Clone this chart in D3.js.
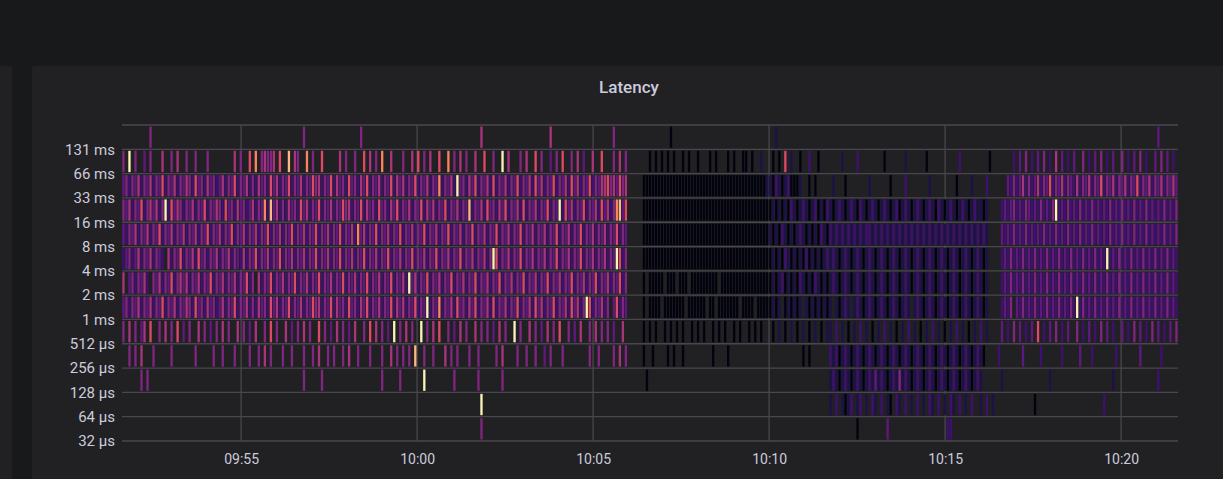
<!DOCTYPE html>
<html><head><meta charset="utf-8">
<script src="https://cdn.jsdelivr.net/npm/d3@7"></script>
<style>body{margin:0;background:#18191b;}svg{display:block;font-family:Roboto,"Noto Sans",sans-serif;}</style>
</head><body><svg id="c" width="1223" height="479"></svg>
<script>
// bucket boundaries (µs, log2) and labels
const yTickValues = [32,64,128,256,512,1024,2048,4096,8192,16384,32768,65536,131072];
const yTickLabels = ["32 µs","64 µs","128 µs","256 µs","512 µs","1 ms","2 ms","4 ms","8 ms","16 ms","33 ms","66 ms","131 ms"];
const xTickLabels = ["09:55","10:00","10:05","10:10","10:15","10:20"];
const segLens = [168,5,42,20,116]; // column segments across time
// rows listed from top bucket (>131 ms) to bottom (32-64 µs); level chars '.'=empty, 0..9 intensity
const row12 = [".........4 .......... .......... .......... .......... .......... 4......... .........4 .......... .......... .......... .........5 .......... .......... ..5....... .......... ...4....","",".........0.","..1","......................................................................................................... ....3"];
const row11 = ["4.9.4..3.4 ...5..4.5. .4..4...4. .......5.4 ..6.7.4544 5.6..8.54. .7.4..6... ..5.4..4.. 6.5.4.7..5 ...4..5.6. 4.5..6..7. 4.5.4..5.. 6..4..9.5. ..4.5..6.4 ..3.4.6..4 .5.3..5..6 ...4.5.4","","..0.0.0.0. 0..0.0..0. ..0.0...0. 0..00.0..1 ..0.",".0.0.6.1.. 0..2..0...","....1....2 ........0. .....1.... ..0....... ...2...... ...0...... .2.3.4.2.3. 4.2.5.3.2. 3..4.2.3.4 .2.3..4.2. 3.4.2..3.4 .3.2.4.3.. 2.4.3.2."];
const row10 = ["3424352435 2436243524 3542634253 4235243624 3524253426 3524362435 2436452436 2534263425 3624352436 2535243624 3524372435 2934253624 3526243524 3624352635 2436243526 3524362435 56453645","","0000000000 0000000000 0000000000 0000000000 01","1021012000 1..0.0....",".1...0.... ...1...... 0....2.... ...1...... ..0....1.. ..2...... 3242352423 5243624352 4325243524 3624352435 2436243524 352435342"];
const row9 = ["4352436245 3524926354 2435243624 3542634253 4235243728 3524253426 3524362435 2436452436 2534263425 3624352436 2535243624 3524382435 2634253624 3526243524 3624392635 2436243526 35247836","","0000000000 0000000000 0000000000 0000000000 00","0101010210 1210120102","1012101210 2101210121 0120121012 1012102101 2101210121 101.... 2323423243 2324232492 3242324232 4232324232 4232423242 323242324"];
const row8 = ["3243524352 4362435243 5243524362 4352436243 5243524362 4352436243 5243624352 4362435273 5243624352 4362435243 6243524362 4352436243 5243624352 4362435243 5243624352 4362435243 52436243","","0000000000 0000000000 0000000000 0000000000 00","1010210101 2101010210","2121212121 2122121212 1212121212 1212121212 1212121212 121.... 3232423242 3232423242 3242324232 4232324232 4232423242 323242324"];
const row7 = ["2342352435 2432.52436 2435263424 3524352432 5243624352 4362435243 5243624352 4362435243 6243524362 4352436243 5243624352 4362435243 5249624352 4362435243 5243624352 4362435243 52439624","","0000000000 0000000000 0000000000 0000000000 00","0101021010 1020101012","1210121012 1012101210 1210121012 1012101210 1210121012 101.... 2324232423 2423242324 2324232423 2423292324 2324232423 242324232"];
const row6 = ["5.3424352. 4352436245 3524352436 2435243524 3624.52436 2435243624 3524362435 2436243524 3624352436 2435293524 3624352436 2435243624 3524362435 2436243524 3624352436 2435243624 35243624","","0.00000.00 0.000.0000 00000.0000 0000000000 00","0101201010 2101021010","1210121012 1012101210 1210121012 1012101210 1210121012 101.... 2324232423 2423242324 2324232423 2423242324 2324232423 242324232"];
const row5 = ["3424352435 2436243524 3542634253 4235243624 3524253426 3524362435 2436452436 2534263425 3624352436 2535243624 3924372435 2634253624 3526243524 3624352635 2436243526 3524962435 24.36243","","0.0000.000 0000.00000 0.00.00000 00.0000.00 00","0101.01010 1.10101010","1.10121.12 1012101210 1210121.12 1012101210 1210121012 101.... 2324.32423 2423242324 2324292423 2423242324 2324232423 242324232"];
const row4 = ["4.5.4.35.6 ..4.5.4.6. 3.4..5.4.3 .4.5.4..5. 4.3.5..4.6 .4..5.3.4. 5.4..6.4.3 .5.4.3.5.. 4.6.5.4.3. 9.4.5.4..9 .4.5.6..4. 3.5.4..5.4 .4.3.5.4.. 9.4..5.4.3 .5.4.6..4. 3.5..4.5.4 .4.3..5.4","","0.0.0..0.0 .0.0..0.0. 0..0.0.0.. 0.0..0.0.0 ..",".0.1.0.1.0 .1.0.1.0.1","1.2.1.0.1. 2.1.0.1.2. 1.0.1.2.1. 0.1.2.1.0. 1.2.1.0.1. 2.1.... 3.2.4.3.2. 3.6.2.3.4. 2.3..4.2.3 .2.4.3.2.. 3.2.4.3.2. 4.3.2.3.4"];
const row3 = ["..4.4.5... 4.....4... ....4..... 4..4...4.. ..4..4.5.4 ...4..4... 4..4.5..4. 4..4.5..4. ..4...4..5 .4.4.4.8.. 4..4...5.4 .4...4..4. ....4.5... .4..4..4.. 3.4...4... .....4..4. ...4.5.4","","0..0....0. 0..0...... ...0....0. .......... ..",".......... .0.0......","2120121012 1012101210 1210121012 1012101210 1210121012 10 ....2..... ..3.....2. .....2.... .3...2.... ...2...... .3......2"];
const row2 = ["......4.4. .......... .......... .......... .......... .......... 4.....4... .......... ......4..... 4.......9. ........4. ......4... ....4..... .......... .......... .......... ........","",".0........ .......... .......... .......... ..","..........","1210121012 1012131210 1214121012 1012101210 1210121012 1 ......1... .......... ..1....... .......... ...1...... ........2"];
const row1 = [".......... .......... .......... .......... .......... .......... .......... .......... .......... .......... .......... .........9","","","","1.2.1012.1 2.1.21.2.1 0.21.2.1.2 .1.21.2.1. 21.2.1.2.. 1.2.1 .......... ...0...... .......... ......2... .......... ......"];
const row0 = [".......... .......... .......... .......... .......... .......... .......... .......... .......... .......... .......... .........4","","","",".........0 .........3 .......... .........2 2"];
const rows = [row0,row1,row2,row3,row4,row5,row6,row7,row8,row9,row10,row11,row12]; // bottom to top
const levelStops = [0.03,0.13,0.21,0.29,0.37,0.47,0.6,0.74,0.85,0.98];

const W=1223,H=479;
const svg=d3.select("#c");
svg.append("rect").attr("width",W).attr("height",H).attr("fill","#18191b");
svg.append("rect").attr("x",32).attr("y",66).attr("width",W-32+5).attr("height",H-66+5).attr("rx",3).attr("fill","#212124");
svg.append("rect").attr("x",-3).attr("y",66).attr("width",15).attr("height",H).attr("rx",3).attr("fill","#212124");
svg.append("text").attr("x",629).attr("y",93).attr("text-anchor","middle").attr("fill","#ccccdc").attr("font-size",17).attr("font-weight",500).text("Latency");

const t0=new Date(2024,0,1,9,51,37), t1=new Date(2024,0,1,10,21,37);
const x=d3.scaleTime().domain([t0,t1]).range([122,1178]);
const y=d3.scaleLog().base(2).domain([32,262144]).range([441,125]);
const nCols=d3.sum(segLens);
const dt=(t1-t0)/nCols;

// grid
const g=svg.append("g");
yTickValues.concat([262144]).forEach(v=>g.append("line").attr("x1",122).attr("x2",1178).attr("y1",y(v)).attr("y2",y(v)).attr("stroke","#48484c").attr("stroke-width",1.3));
const xTicks=xTickLabels.map(s=>{const [h,m]=s.split(":");return new Date(2024,0,1,+h,+m,0);});
xTicks.forEach(t=>g.append("line").attr("x1",x(t)).attr("x2",x(t)).attr("y1",125).attr("y2",441).attr("stroke","#48484c").attr("stroke-width",1.3));

// cells
const cells=[];
rows.forEach((segs,ri)=>{
  let col=0;
  segs.forEach((s,si)=>{
    const str=s.replace(/ /g,"").padEnd(segLens[si],".").slice(0,segLens[si]);
    for(let k=0;k<str.length;k++){const c=str[k]; if(c!=="."){cells.push({col:col+k,lo:32*Math.pow(2,ri),lvl:+c});}}
    col+=segLens[si];
  });
});
const color=l=>d3.interpolateMagma(levelStops[l]);
svg.append("g").selectAll("rect").data(cells).join("rect")
 .attr("x",d=>x(new Date(+t0+d.col*dt))+0.3)
 .attr("width",d=>x(new Date(+t0+(d.col+1)*dt))-x(new Date(+t0+d.col*dt))-0.7)
 .attr("y",d=>y(d.lo*2)+1.5).attr("height",d=>y(d.lo)-y(d.lo*2)-3)
 .attr("fill",d=>color(d.lvl));

// axes
const ax=svg.append("g").attr("transform","translate(0,441)").call(d3.axisBottom(x).tickValues(xTicks).tickFormat(d3.timeFormat("%H:%M")).tickSize(0).tickPadding(13));
const ay=svg.append("g").attr("transform","translate(122,0)").call(d3.axisLeft(y).tickValues(yTickValues).tickFormat((d,i)=>yTickLabels[i]).tickSize(0).tickPadding(7));
[ax,ay].forEach(a=>{a.select(".domain").remove();a.selectAll("text").attr("fill","#ccccdc").attr("font-size",15).attr("font-family","Roboto, sans-serif");});
ax.selectAll("text").attr("font-size",14);
</script></body></html>
